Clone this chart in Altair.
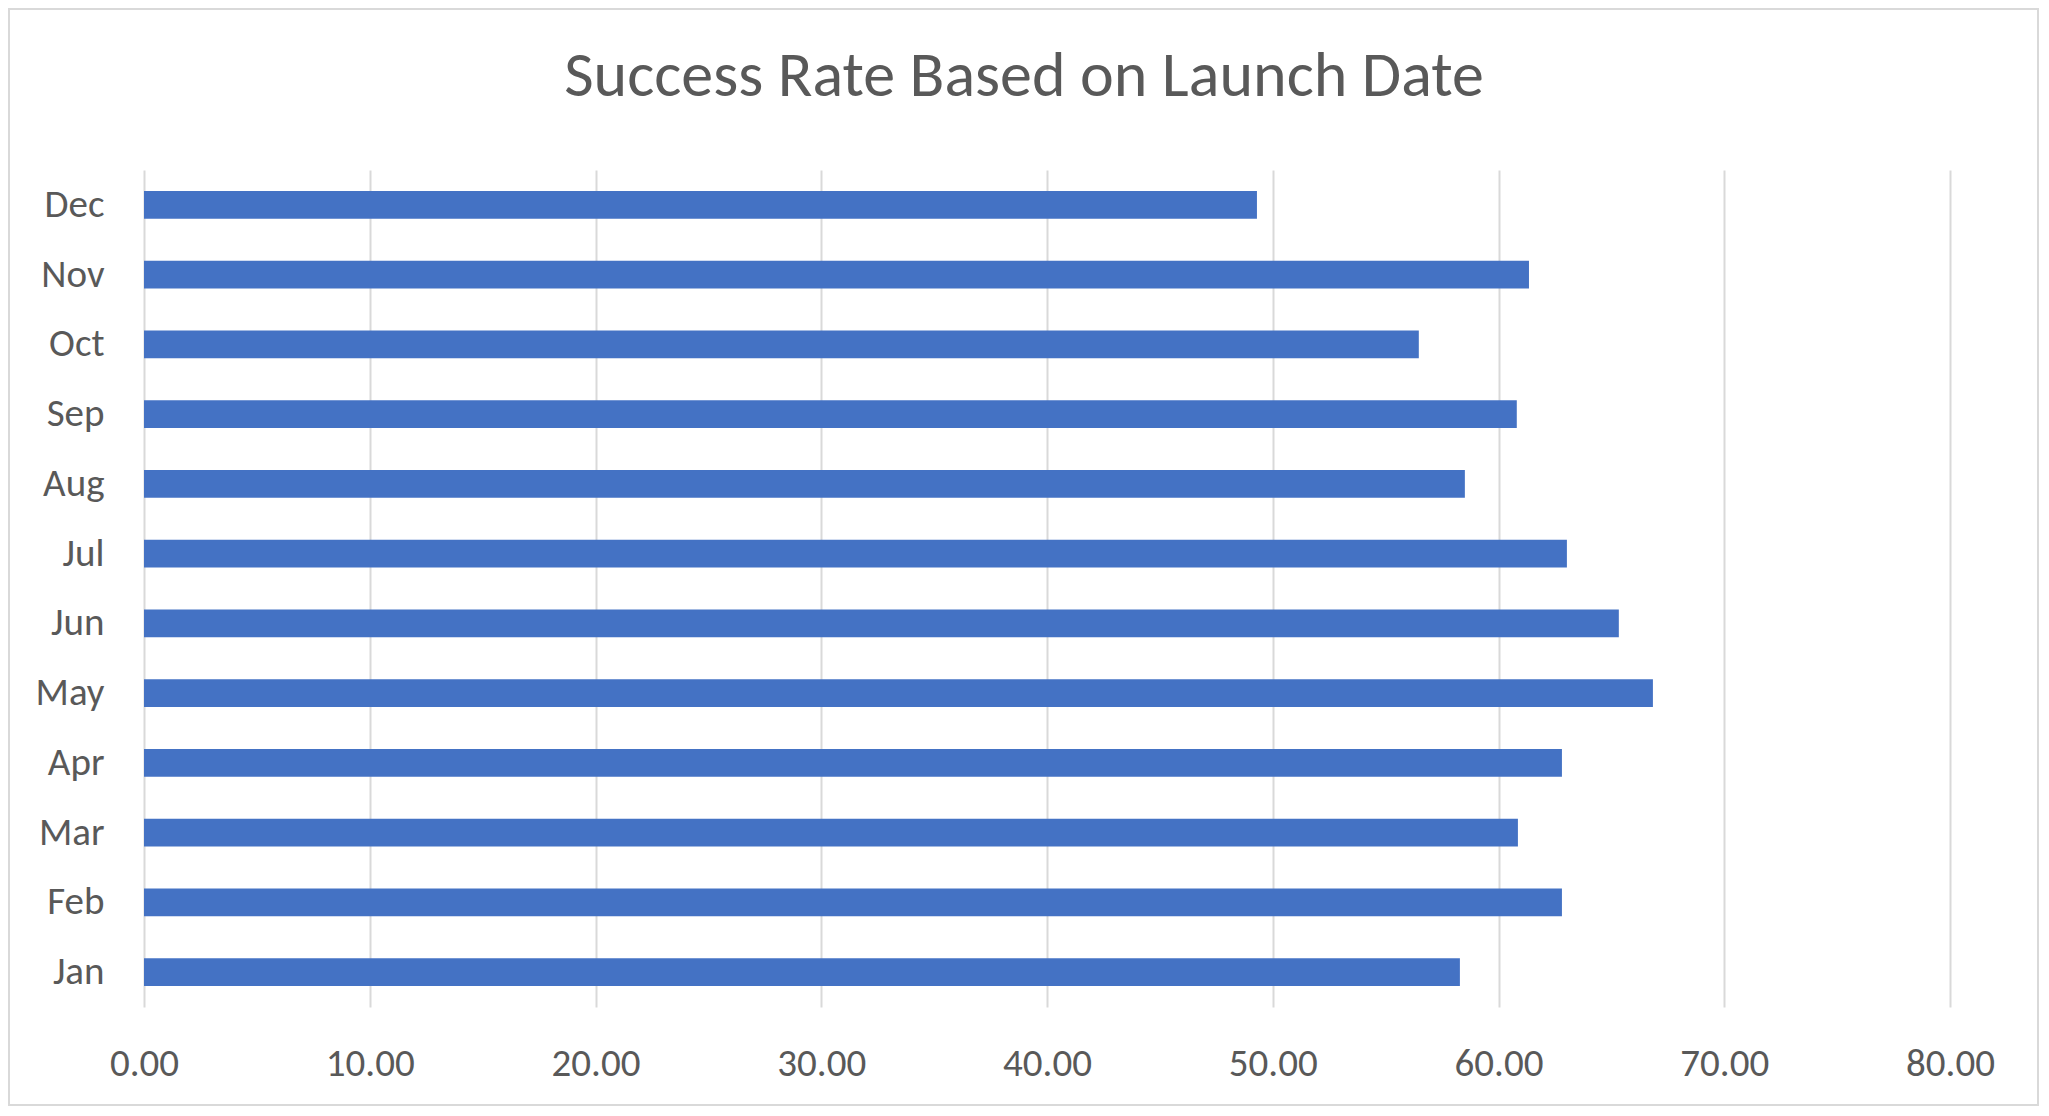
import altair as alt
import pandas as pd

months = ["Jan", "Feb", "Mar", "Apr", "May", "Jun", "Jul", "Aug", "Sep", "Oct", "Nov", "Dec"]
rates = [58.29, 62.81, 60.86, 62.81, 66.84, 65.33, 63.03, 58.51, 60.81, 56.47, 61.35, 49.30]
x_ticks = [0, 10, 20, 30, 40, 50, 60, 70, 80]
title_text = "Success Rate Based on Launch Date"

df = pd.DataFrame({"month": months, "rate": rates})
order = list(reversed(months))

FONT = "Calibri, Carlito, Lato, sans-serif"
TXT = "#595959"
W, H = 1806, 837

bars = alt.Chart(df).mark_bar(color="#4472C4").encode(
    x=alt.X("rate:Q",
            scale=alt.Scale(domain=[0, 80], nice=False, zero=True),
            axis=alt.Axis(values=x_ticks, format=".2f", title=None, grid=True,
                          gridColor="#d9d9d9", gridWidth=2, domain=False, ticks=False,
                          labelFontSize=39, labelColor=TXT, labelFont=FONT,
                          labelPadding=37, labelFlush=False)),
    y=alt.Y("month:N", sort=order,
            scale=alt.Scale(paddingInner=0.6, paddingOuter=0.3),
            axis=alt.Axis(title=None, domain=False, ticks=False, grid=False,
                          labelFontSize=39, labelColor=TXT, labelFont=FONT,
                          labelPadding=40)),
)

border = alt.Chart(alt.Data(values=[{}])).mark_rect(
    filled=False, stroke="#d9d9d9", strokeWidth=2
).encode(
    x=alt.value(-135), x2=alt.value(W + 88),
    y=alt.value(-161), y2=alt.value(H + 98),
)

chart = alt.layer(border, bars).properties(
    width=W, height=H,
    title=alt.TitleParams(title_text, fontSize=64, font=FONT, color=TXT,
                          fontWeight="normal", anchor="middle", frame="group",
                          baseline="alphabetic", offset=-152, dx=-23),
    autosize=alt.AutoSizeParams(type="none"),
    padding={"left": 136, "top": 162, "right": 90, "bottom": 100},
).configure(background="white").configure_view(stroke=None)

chart.save("out.html", embed_options={"renderer": "svg", "actions": False})
